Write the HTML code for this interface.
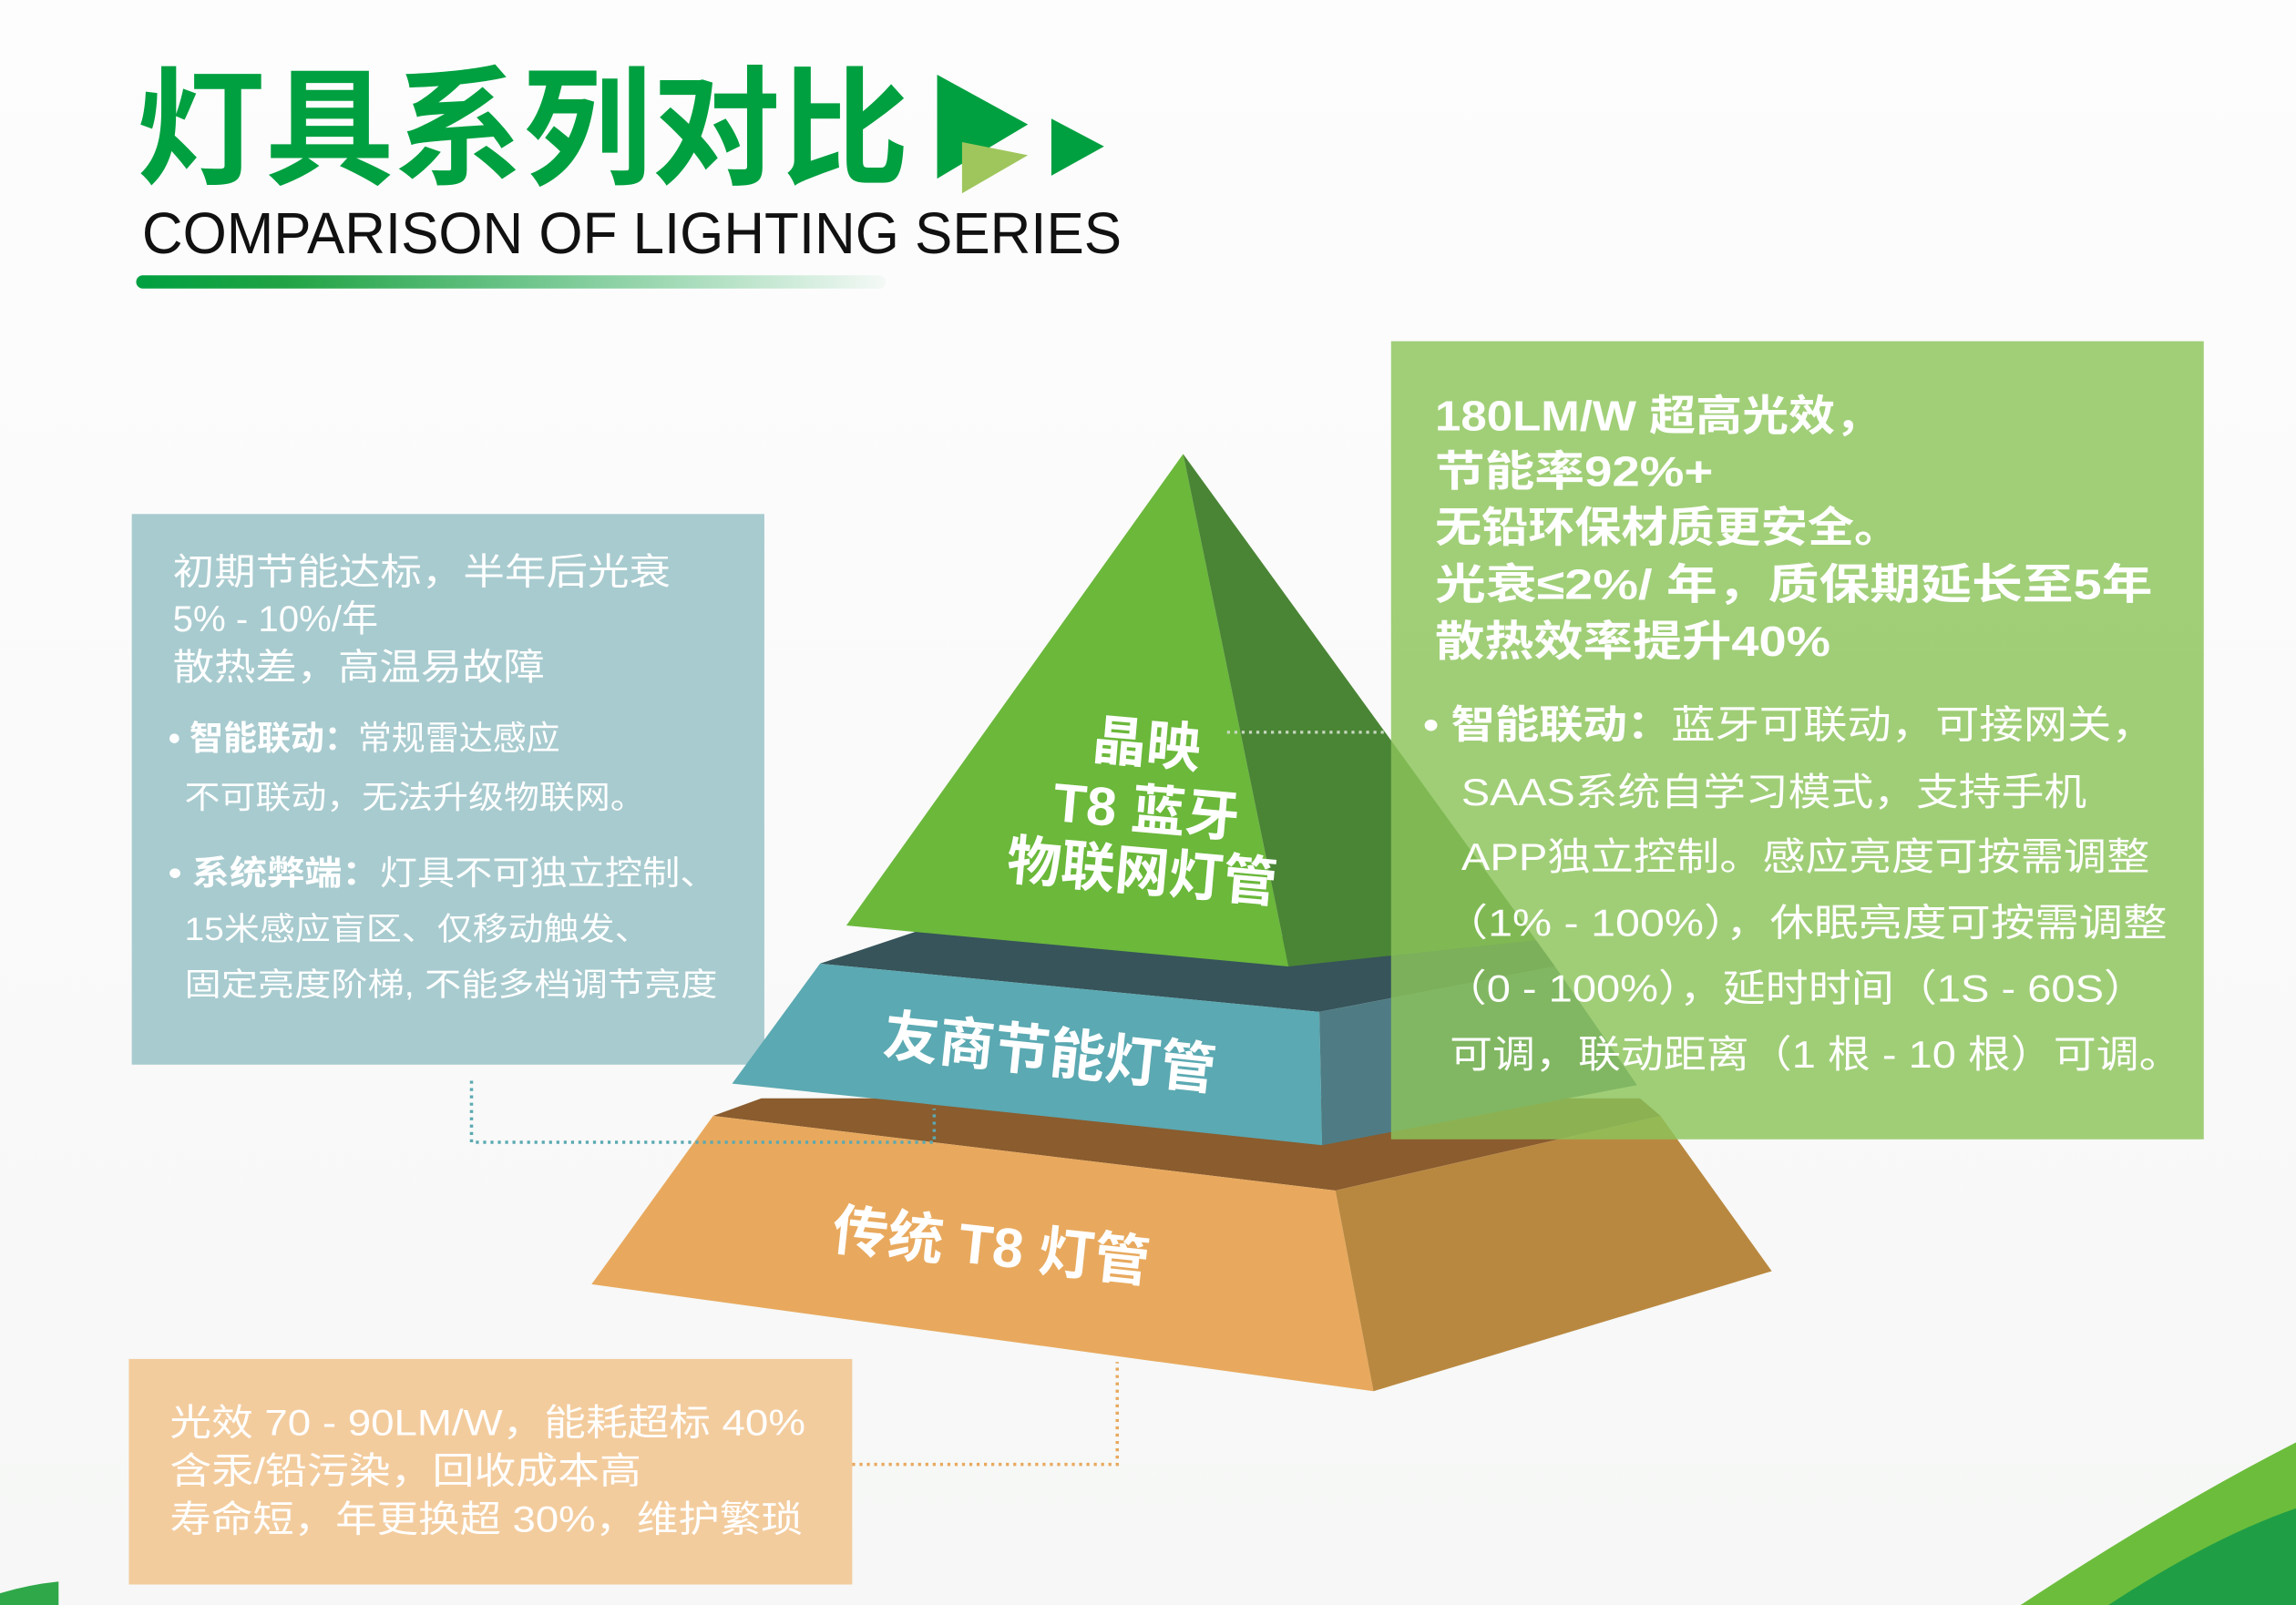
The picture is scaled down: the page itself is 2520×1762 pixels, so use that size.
<!DOCTYPE html>
<html><head><meta charset="utf-8"><style>
html,body{margin:0;padding:0;background:#fff;}
svg{display:block;}
text{font-family:"Liberation Sans","Noto Sans CJK SC",sans-serif;}
.cj{font-family:"Noto Sans CJK SC","Liberation Sans",sans-serif;}
</style></head><body>
<svg width="2520" height="1762" viewBox="0 0 1568 1096" preserveAspectRatio="none" xmlns="http://www.w3.org/2000/svg">
<defs>
<linearGradient id="bar" x1="0" x2="1" y1="0" y2="0">
<stop offset="0" stop-color="#00a040"/><stop offset="0.2" stop-color="#22a345"/><stop offset="1" stop-color="#00a040" stop-opacity="0.03"/>
</linearGradient>
<linearGradient id="bg" x1="0" y1="0" x2="0" y2="1"><stop offset="0" stop-color="#fdfdfd"/><stop offset="1" stop-color="#f6f7f6"/></linearGradient>
</defs>
<rect width="1568" height="1096" fill="url(#bg)"/>
<path d="M1380,1096 Q1480,1030 1568,985 L1568,1096 Z" fill="#6cbd3c"/>
<path d="M1440,1096 Q1510,1050 1568,1030 L1568,1096 Z" fill="#1f9e45"/>
<path d="M0,1088 Q20,1082 40,1080 L40,1096 L0,1096Z" fill="#2fa84a"/>

<text class="cj" x="93" y="119" font-size="88" font-weight="bold" fill="#00a040" textLength="528" lengthAdjust="spacingAndGlyphs">灯具系列对比</text>
<polygon points="640,51 702,85 640,122" fill="#00a040"/>
<polygon points="657,97 702,106 657,132" fill="#9fc65c"/>
<polygon points="718,81 754,100 718,120" fill="#00a040"/>
<text x="97" y="173" font-size="40" fill="#111" textLength="669" lengthAdjust="spacingAndGlyphs">COMPARISON OF LIGHTING SERIES</text>
<rect x="93" y="188" width="512" height="9" rx="4.5" fill="url(#bar)"/>

<rect x="90" y="351" width="432" height="376" fill="#a8cbcf"/>
<rect x="88" y="928" width="494" height="154" fill="#f3cc9e"/>

<polygon points="487,762 520,750 1120,750 1134,762 912,813" fill="#8a5c2e"/>
<polygon points="487,762 912,813 938,950 404,877" fill="#e8a95e"/>
<polygon points="912,813 1134,762 1210,868 938,950" fill="#b98840"/>
<polygon points="560,658 626,636 1049,642 1062,660 901,691" fill="#36545a"/>
<polygon points="560,658 901,691 903,782 500,740" fill="#5ba9b2"/>
<polygon points="901,691 1062,660 1118,741 903,782" fill="#4f7c84"/>
<polygon points="808,310 578,632 880,660" fill="#6bb83b"/>
<polygon points="808,310 880,660 1049,642" fill="#4a8535"/>

<polyline points="322,738 322,780 638,780 638,757" fill="none" stroke="#5ba9b2" stroke-width="2.2" stroke-dasharray="2,3"/>
<polyline points="582,1000 763,1000 763,930" fill="none" stroke="#e8a95e" stroke-width="2.2" stroke-dasharray="2,3"/>

<rect x="950" y="233" width="555" height="545" fill="#8cc45a" fill-opacity="0.82"/>
<polyline points="838,500 948,500" fill="none" stroke="#c8d8c0" stroke-width="2" stroke-dasharray="2,3"/>

<g class="cj" fill="#fff" font-weight="bold" text-anchor="middle">
<text x="783" y="521" font-size="37" transform="rotate(5 783 508)">晶映</text>
<text x="783" y="566" font-size="37" transform="rotate(5 783 553)">T8 蓝牙</text>
<text x="780" y="608" font-size="37" transform="rotate(5 780 595)">物联网灯管</text>
<text x="717" y="732" font-size="38" transform="rotate(6 717 718)">友商节能灯管</text>
<text x="677" y="864" font-size="38" transform="rotate(6 677 850)">传统 T8 灯管</text>
</g>

<g class="cj" fill="#fff">
<text x="118" y="399" font-size="25" textLength="340" lengthAdjust="spacingAndGlyphs">初期节能达标，半年后光衰</text>
<text x="118" y="431" font-size="25">5% - 10%/年</text>
<text x="118" y="464" font-size="25" textLength="254" lengthAdjust="spacingAndGlyphs">散热差，高温易故障</text>
<text x="115" y="512" font-size="23"><tspan font-weight="bold">• 智能联动：</tspan>常规雷达感应</text>
<text x="126" y="552" font-size="22" textLength="315" lengthAdjust="spacingAndGlyphs">不可联动，无法升级物联网。</text>
<text x="115" y="604" font-size="23" textLength="375" lengthAdjust="spacingAndGlyphs"><tspan font-weight="bold">• 系统弊端：</tspan>灯具不可独立控制、</text>
<text x="126" y="642" font-size="22" textLength="318" lengthAdjust="spacingAndGlyphs">15米感应盲区、仅移动触发、</text>
<text x="126" y="680" font-size="22" textLength="364" lengthAdjust="spacingAndGlyphs">固定亮度阶梯, 不能多档调节亮度</text>
</g>

<g class="cj" fill="#fff" font-weight="bold">
<text x="980" y="294" font-size="29" textLength="305" lengthAdjust="spacingAndGlyphs">180LM/W 超高光效，</text>
<text x="980" y="332" font-size="29" textLength="190" lengthAdjust="spacingAndGlyphs">节能率92%+</text>
<text x="980" y="370" font-size="29" textLength="318" lengthAdjust="spacingAndGlyphs">无铅环保材质更安全。</text>
<text x="980" y="409" font-size="29" textLength="490" lengthAdjust="spacingAndGlyphs">光衰≤2%/ 年，质保期延长至5年</text>
<text x="980" y="448" font-size="29" textLength="270" lengthAdjust="spacingAndGlyphs">散热效率提升40%</text>
</g>
<g class="cj" fill="#fff">
<text x="972" y="504" font-size="27" textLength="500" lengthAdjust="spacingAndGlyphs"><tspan font-weight="bold">• 智能联动：</tspan>蓝牙可联动，可接网关，</text>
<text x="998" y="550" font-size="26" textLength="427" lengthAdjust="spacingAndGlyphs">SAAS系统自学习模式，支持手机</text>
<text x="998" y="594" font-size="26" textLength="470" lengthAdjust="spacingAndGlyphs">APP独立控制。感应亮度可按需调整</text>
<text x="986" y="639" font-size="26" textLength="494" lengthAdjust="spacingAndGlyphs">（1% - 100%），休眠亮度可按需调整</text>
<text x="986" y="684" font-size="26" textLength="480" lengthAdjust="spacingAndGlyphs">（0 - 100%），延时时间（1S - 60S）</text>
<text x="990" y="729" font-size="26" textLength="500" lengthAdjust="spacingAndGlyphs">可调，联动距离（1 根 - 10 根）可调。</text>
</g>

<g class="cj" fill="#fff">
<text x="116" y="980" font-size="25" textLength="434" lengthAdjust="spacingAndGlyphs">光效 70 - 90LM/W，能耗超标 40%</text>
<text x="116" y="1013" font-size="25" textLength="322" lengthAdjust="spacingAndGlyphs">含汞/铅污染，回收成本高</text>
<text x="116" y="1046" font-size="25" textLength="432" lengthAdjust="spacingAndGlyphs">寿命短，年更换超 30%，维护繁琐</text>
</g>
</svg>
</body></html>
